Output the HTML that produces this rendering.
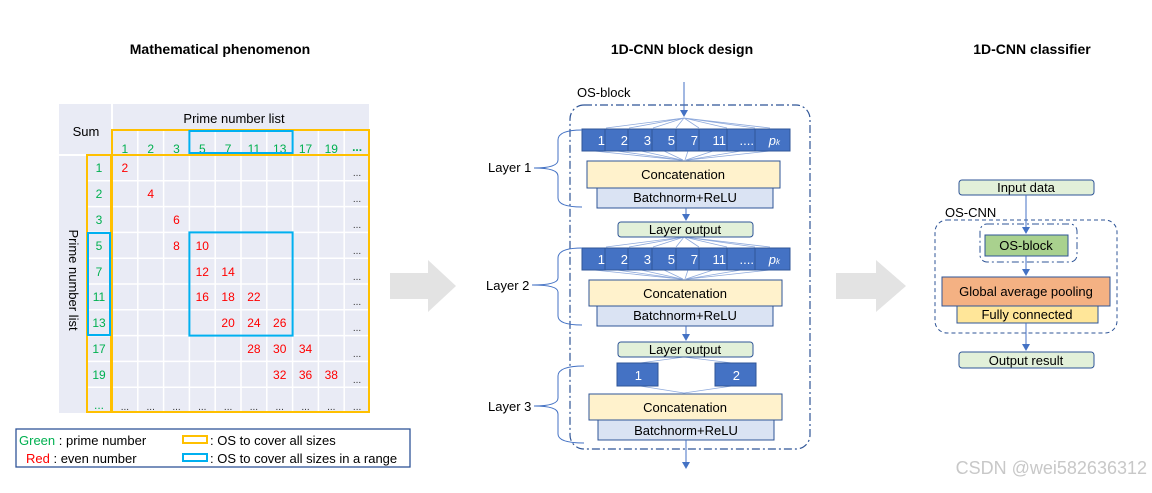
<!DOCTYPE html>
<html><head><meta charset="utf-8"><style>
body{margin:0;background:#fff;width:1152px;height:488px;overflow:hidden}
svg{font-family:"Liberation Sans",sans-serif}
</style></head><body>
<svg width="1152" height="488" viewBox="0 0 1152 488" xmlns="http://www.w3.org/2000/svg">
<defs>
<marker id="ah" markerWidth="8" markerHeight="8" refX="6" refY="4" orient="auto" markerUnits="userSpaceOnUse"><path d="M0,0 L7,4 L0,8 z" fill="#4472c4"/></marker>
</defs>
<g font-weight="bold" font-size="14" text-anchor="middle" fill="#000">
<text x="220" y="54">Mathematical phenomenon</text>
<text x="682" y="54">1D-CNN block design</text>
<text x="1032" y="54">1D-CNN classifier</text>
</g>
<!-- table -->
<rect x="59" y="104" width="310" height="309" fill="#e9ebf5"/>
<g stroke="#fff" stroke-width="2">
<line x1="112" y1="104" x2="112" y2="413"/>
<line x1="59" y1="155" x2="369" y2="155"/>
<line x1="112" y1="130" x2="369" y2="130"/>
</g>
<g stroke="#fff" stroke-width="1.5">
<line x1="137.8" y1="130" x2="137.8" y2="413"/><line x1="163.6" y1="130" x2="163.6" y2="413"/><line x1="189.4" y1="130" x2="189.4" y2="413"/><line x1="215.2" y1="130" x2="215.2" y2="413"/><line x1="241" y1="130" x2="241" y2="413"/><line x1="266.8" y1="130" x2="266.8" y2="413"/><line x1="292.6" y1="130" x2="292.6" y2="413"/><line x1="318.4" y1="130" x2="318.4" y2="413"/><line x1="344.2" y1="130" x2="344.2" y2="413"/>
<line x1="87" y1="180.8" x2="369" y2="180.8"/><line x1="87" y1="206.6" x2="369" y2="206.6"/><line x1="87" y1="232.4" x2="369" y2="232.4"/><line x1="87" y1="258.2" x2="369" y2="258.2"/><line x1="87" y1="284" x2="369" y2="284"/><line x1="87" y1="309.8" x2="369" y2="309.8"/><line x1="87" y1="335.6" x2="369" y2="335.6"/><line x1="87" y1="361.4" x2="369" y2="361.4"/><line x1="87" y1="387.2" x2="369" y2="387.2"/>
</g>
<text x="234" y="123" font-size="13" text-anchor="middle">Prime number list</text>
<text x="86" y="136" font-size="13" text-anchor="middle">Sum</text>
<text transform="translate(69,280) rotate(90)" font-size="13" text-anchor="middle">Prime number list</text>
<g font-size="12" fill="#00b050" text-anchor="middle">
<text x="124.9" y="153">1</text><text x="150.7" y="153">2</text><text x="176.5" y="153">3</text><text x="202.3" y="153">5</text><text x="228.1" y="153">7</text><text x="253.9" y="153">11</text><text x="279.7" y="153">13</text><text x="305.5" y="153">17</text><text x="331.3" y="153">19</text><text x="357.1" y="151" font-weight="bold">...</text>
<text x="99" y="172">1</text><text x="99" y="198">2</text><text x="99" y="224">3</text><text x="99" y="250">5</text><text x="99" y="276">7</text><text x="99" y="301">11</text><text x="99" y="327">13</text><text x="99" y="353">17</text><text x="99" y="379">19</text><text x="99" y="409">...</text>
</g>
<g font-size="12" fill="#ff0000" text-anchor="middle">
<text x="124.9" y="172">2</text><text x="150.7" y="198">4</text><text x="176.5" y="224">6</text>
<text x="176.5" y="250">8</text><text x="202.3" y="250">10</text>
<text x="202.3" y="276">12</text><text x="228.1" y="276">14</text>
<text x="202.3" y="301">16</text><text x="228.1" y="301">18</text><text x="253.9" y="301">22</text>
<text x="228.1" y="327">20</text><text x="253.9" y="327">24</text><text x="279.7" y="327">26</text>
<text x="253.9" y="353">28</text><text x="279.7" y="353">30</text><text x="305.5" y="353">34</text>
<text x="279.7" y="379">32</text><text x="305.5" y="379">36</text><text x="331.3" y="379">38</text>
</g>
<g font-size="10" fill="#333" text-anchor="middle">
<text x="357" y="176">...</text><text x="357" y="202">...</text><text x="357" y="228">...</text><text x="357" y="254">...</text><text x="357" y="280">...</text><text x="357" y="305">...</text><text x="357" y="331">...</text><text x="357" y="357">...</text><text x="357" y="383">...</text>
<text x="124.9" y="410">...</text><text x="150.7" y="410">...</text><text x="176.5" y="410">...</text><text x="202.3" y="410">...</text><text x="228.1" y="410">...</text><text x="253.9" y="410">...</text><text x="279.7" y="410">...</text><text x="305.5" y="410">...</text><text x="331.3" y="410">...</text><text x="357.1" y="410">...</text>
</g>
<g fill="none" stroke-width="2">
<rect x="112" y="130" width="257" height="25" stroke="#ffc000"/>
<rect x="87" y="155" width="24" height="257" stroke="#ffc000"/>
<rect x="112" y="155" width="257" height="257" stroke="#ffc000"/>
<rect x="189.4" y="131" width="103.2" height="22" stroke="#00b0f0"/>
<rect x="189.4" y="232.4" width="103.2" height="103.2" stroke="#00b0f0"/>
<rect x="88" y="233" width="22" height="102" stroke="#00b0f0"/>
</g>
<!-- legend -->
<rect x="16" y="429" width="394" height="38" fill="#fff" stroke="#2f5597" stroke-width="1.3"/>
<g font-size="13">
<text x="19" y="445"><tspan fill="#00b050">Green</tspan> : prime number</text>
<text x="26" y="463"><tspan fill="#ff0000">Red</tspan>    : even number</text>
<rect x="183" y="436" width="24" height="7" fill="none" stroke="#ffc000" stroke-width="2"/>
<text x="210" y="445">: OS to cover all sizes</text>
<rect x="183" y="454" width="24" height="7" fill="none" stroke="#00b0f0" stroke-width="2"/>
<text x="210" y="463">: OS to cover all sizes in a range</text>
</g>
<!-- gray arrows -->
<path d="M390,273 L428,273 L428,260 L456,286 L428,312 L428,299 L390,299 z" fill="#e3e3e3"/>
<path d="M836,273 L876,273 L876,260 L906,286 L876,312 L876,299 L836,299 z" fill="#e3e3e3"/>
<!-- middle -->
<text x="577" y="97" font-size="13">OS-block</text>
<rect x="570" y="105" width="240" height="344" rx="14" fill="none" stroke="#2f5597" stroke-width="1.2" stroke-dasharray="8,3,2,3"/>
<line x1="684" y1="82" x2="684" y2="116" stroke="#4472c4" marker-end="url(#ah)"/>
<g stroke="#8faadc" stroke-width="0.8" fill="none">
<path d="M684,118 L606,128 M684,118 L629,128 M684,118 L653,128 M684,118 L676,128 M684,118 L699,128 M684,118 L727,128 M684,118 L755,128 M684,118 L770,128"/>
<path d="M594,151 L680,160 M617,151 L681,160 M641,151 L682,160 M664,151 L683,160 M688,151 L685,160 M713,151 L686,160 M741,151 L687,160 M770,151 L688,160"/>
<path d="M684,237 L606,247 M684,237 L629,247 M684,237 L653,247 M684,237 L676,247 M684,237 L699,247 M684,237 L727,247 M684,237 L755,247 M684,237 L770,247"/>
<path d="M594,270 L680,279 M617,270 L681,279 M641,270 L682,279 M664,270 L683,279 M688,270 L685,279 M713,270 L686,279 M741,270 L687,279 M770,270 L688,279"/>
<path d="M684,357 L640,363 M684,357 L732,363 M640,386 L684,393 M732,386 L684,393"/>
</g>
<g fill="#4472c4" stroke="#2f5597" stroke-width="1">
<rect x="582" y="129" width="24" height="22"/><rect x="605" y="129" width="24" height="22"/><rect x="628" y="129" width="24" height="22"/><rect x="652" y="129" width="24" height="22"/><rect x="676" y="129" width="24" height="22"/><rect x="699" y="129" width="29" height="22"/><rect x="727" y="129" width="29" height="22"/><rect x="755" y="129" width="35" height="22"/>
<rect x="582" y="248" width="24" height="22"/><rect x="605" y="248" width="24" height="22"/><rect x="628" y="248" width="24" height="22"/><rect x="652" y="248" width="24" height="22"/><rect x="676" y="248" width="24" height="22"/><rect x="699" y="248" width="29" height="22"/><rect x="727" y="248" width="29" height="22"/><rect x="755" y="248" width="35" height="22"/>
<rect x="617" y="363" width="41" height="23"/><rect x="715" y="363" width="41" height="23"/>
</g>
<g fill="#fff" font-size="13" text-anchor="end">
<text x="605" y="145">1</text><text x="628" y="145">2</text><text x="651" y="145">3</text><text x="675" y="145">5</text><text x="698" y="145">7</text><text x="726" y="145">11</text><text x="754" y="145">....</text><text x="780" y="145" font-style="italic">p<tspan font-size="8">k</tspan></text>
<text x="605" y="264">1</text><text x="628" y="264">2</text><text x="651" y="264">3</text><text x="675" y="264">5</text><text x="698" y="264">7</text><text x="726" y="264">11</text><text x="754" y="264">....</text><text x="780" y="264" font-style="italic">p<tspan font-size="8">k</tspan></text>
<text x="642" y="380">1</text><text x="740" y="380">2</text>
</g>
<g stroke="#2f5597" stroke-width="1">
<rect x="587" y="161" width="193" height="27" fill="#fff2cc"/><rect x="597" y="188" width="176" height="20" fill="#dae3f3"/>
<rect x="589" y="280" width="193" height="26" fill="#fff2cc"/><rect x="597" y="306" width="176" height="20" fill="#dae3f3"/>
<rect x="589" y="394" width="193" height="26" fill="#fff2cc"/><rect x="598" y="420" width="176" height="20" fill="#dae3f3"/>
</g>
<g stroke="#2f5597" stroke-width="1" fill="#e2f0d9">
<rect x="618" y="222" width="135" height="15" rx="3"/><rect x="618" y="342" width="135" height="15" rx="3"/>
</g>
<g stroke="#4472c4" fill="none">
<line x1="686" y1="208" x2="686" y2="220" marker-end="url(#ah)"/>
<line x1="686" y1="326" x2="686" y2="340" marker-end="url(#ah)"/>
<line x1="686" y1="440" x2="686" y2="468" marker-end="url(#ah)"/>
</g>
<g font-size="13" text-anchor="middle">
<text x="683" y="179">Concatenation</text><text x="685" y="202">Batchnorm+ReLU</text>
<text x="685" y="234">Layer output</text>
<text x="685" y="298">Concatenation</text><text x="685" y="320">Batchnorm+ReLU</text>
<text x="685" y="354">Layer output</text>
<text x="685" y="412">Concatenation</text><text x="686" y="435">Batchnorm+ReLU</text>
</g>
<g font-size="13"><text x="488" y="172">Layer 1</text><text x="486" y="290">Layer 2</text><text x="488" y="411">Layer 3</text></g>
<g stroke="#4472c4" fill="none" stroke-width="1">
<path d="M582,130 Q558,130 558,140 L558,160 Q558,168 534,168 Q558,168 558,176 L558,198 Q558,207 582,207"/>
<path d="M582,248 Q558,248 558,258 L558,278 Q558,285 532,285 Q558,285 558,292 L558,316 Q558,325 582,325"/>
<path d="M584,366 Q558,366 558,376 L558,398 Q558,406 534,406 Q558,406 558,414 L558,434 Q558,443 584,443"/>
</g>
<!-- right -->
<rect x="959" y="180" width="135" height="15" rx="3" fill="#e2f0d9" stroke="#2f5597"/>
<text x="1026" y="192" font-size="13" text-anchor="middle">Input data</text>
<text x="945" y="217" font-size="13">OS-CNN</text>
<rect x="935" y="220" width="182" height="113" rx="12" fill="none" stroke="#2f5597" stroke-dasharray="4,3"/>
<rect x="980" y="224" width="97" height="38" rx="7" fill="none" stroke="#2f5597" stroke-dasharray="7,3,2,3"/>
<rect x="985" y="235" width="83" height="21" fill="#a9d18e" stroke="#2f5597"/>
<text x="1026" y="250" font-size="13" text-anchor="middle">OS-block</text>
<rect x="942" y="277" width="168" height="29" fill="#f4b183" stroke="#2f5597"/>
<text x="1026" y="296" font-size="13" text-anchor="middle">Global average pooling</text>
<rect x="957" y="306" width="141" height="17" fill="#ffe699" stroke="#2f5597"/>
<text x="1027" y="319" font-size="13" text-anchor="middle">Fully connected</text>
<rect x="959" y="352" width="135" height="16" rx="3" fill="#e2f0d9" stroke="#2f5597"/>
<text x="1026" y="365" font-size="13" text-anchor="middle">Output result</text>
<g stroke="#4472c4" fill="none">
<line x1="1026" y1="195" x2="1026" y2="233" marker-end="url(#ah)"/>
<line x1="1026" y1="256" x2="1026" y2="275" marker-end="url(#ah)"/>
<line x1="1026" y1="323" x2="1026" y2="350" marker-end="url(#ah)"/>
</g>
<text x="1147" y="474" font-size="18" fill="#c8c8c8" text-anchor="end">CSDN @wei582636312</text>
</svg>
</body></html>
